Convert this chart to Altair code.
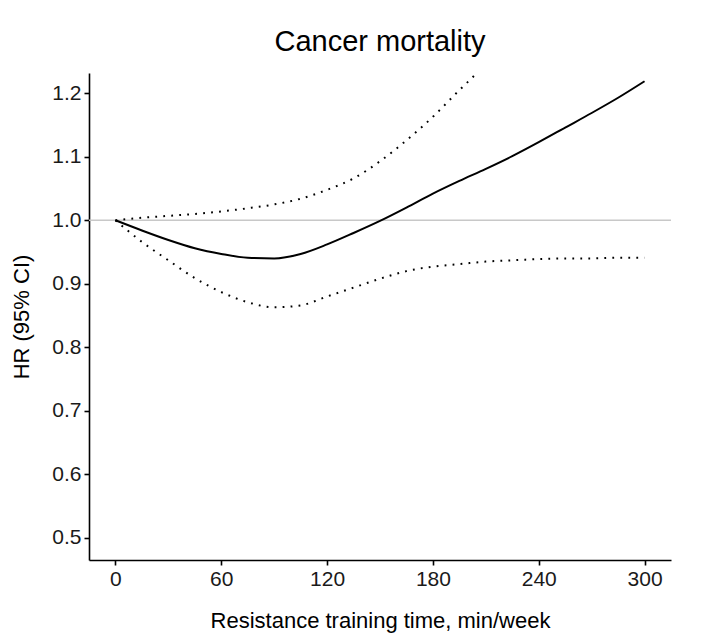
import altair as alt
import pandas as pd

# Resistance training time (min/week) at which the spline is evaluated
minutes = [0, 15, 30, 45, 60, 75, 90, 105, 120, 135, 150, 165, 180, 195,
           210, 225, 240, 255, 270, 285, 300]

# Hazard ratio estimate
hr = [1.000, 0.984, 0.969, 0.956, 0.947, 0.941, 0.940, 0.947, 0.962, 0.980,
      0.999, 1.020, 1.042, 1.062, 1.081, 1.101, 1.123, 1.146, 1.169, 1.193,
      1.219]

# Lower 95% confidence bound
ci_low = [1.000, 0.966, 0.937, 0.909, 0.887, 0.871, 0.863, 0.866, 0.880,
          0.894, 0.908, 0.920, 0.927, 0.931, 0.935, 0.937, 0.939, 0.940,
          0.940, 0.941, 0.941]

# Upper 95% confidence bound (leaves the panel above 1.23)
upper_minutes = [0, 15, 30, 45, 60, 75, 90, 105, 120, 135, 150, 165, 180,
                 195, 210]
ci_high = [1.000, 1.004, 1.007, 1.010, 1.014, 1.019, 1.025, 1.034, 1.048,
           1.066, 1.093, 1.126, 1.163, 1.205, 1.245]

x_ticks = [0, 60, 120, 180, 240, 300]
y_ticks = [0.5, 0.6, 0.7, 0.8, 0.9, 1.0, 1.1, 1.2]

est = pd.DataFrame({"t": minutes, "v": hr})
ci = pd.concat([
    pd.DataFrame({"t": minutes, "v": ci_low, "bound": "lower"}),
    pd.DataFrame({"t": upper_minutes, "v": ci_high, "bound": "upper"}),
])

FONT = "Liberation Sans"

x_enc = alt.X(
    "t:Q",
    scale=alt.Scale(domain=[-15, 315], nice=False, zero=False),
    axis=alt.Axis(
        values=x_ticks,
        title="Resistance training time, min/week",
        titleBaseline="alphabetic",
        titleY=67,
    ),
)
y_enc = alt.Y(
    "v:Q",
    scale=alt.Scale(domain=[0.465, 1.232], nice=False, zero=False),
    axis=alt.Axis(
        values=y_ticks,
        format=".1f",
        title="HR (95% CI)",
        titleBaseline="alphabetic",
        titleX=-61,
    ),
)

ref = alt.Chart(pd.DataFrame({"y": [1.0]})).mark_rule(
    color="#c8c8c8", strokeWidth=1.6
).encode(y=alt.Y("y:Q"))

bounds = alt.Chart(ci).mark_line(
    color="black", strokeWidth=2, strokeDash=[1.8, 6.2],
    interpolate="monotone", clip=True,
).encode(x=x_enc, y=y_enc, detail="bound:N")

line = alt.Chart(est).mark_line(
    color="black", strokeWidth=2, interpolate="monotone", clip=True,
).encode(x=x_enc, y=y_enc)

chart = alt.layer(ref, bounds, line).properties(
    width=582,
    height=487,
    background="white",
    padding={"left": 89, "top": 73, "right": 49, "bottom": 80},
    autosize=alt.AutoSizeParams(type="none"),
    title=alt.TitleParams(
        "Cancer mortality",
        font=FONT,
        fontSize=29,
        fontWeight="normal",
        color="black",
        anchor="middle",
        frame="group",
        baseline="bottom",
        offset=14,
        dy=27,
    ),
).configure_view(
    stroke=None
).configure_axis(
    grid=False,
    domainColor="black",
    domainWidth=1.6,
    tickColor="black",
    tickWidth=1.6,
    tickSize=5,
    labelFont=FONT,
    labelFontSize=21,
    labelColor="#1a1a1a",
    labelPadding=3,
    titleFont=FONT,
    titleFontSize=22,
    titleFontWeight="normal",
    titleColor="black",
)

chart.save("out.html", embed_options={"renderer": "svg", "actions": False})
